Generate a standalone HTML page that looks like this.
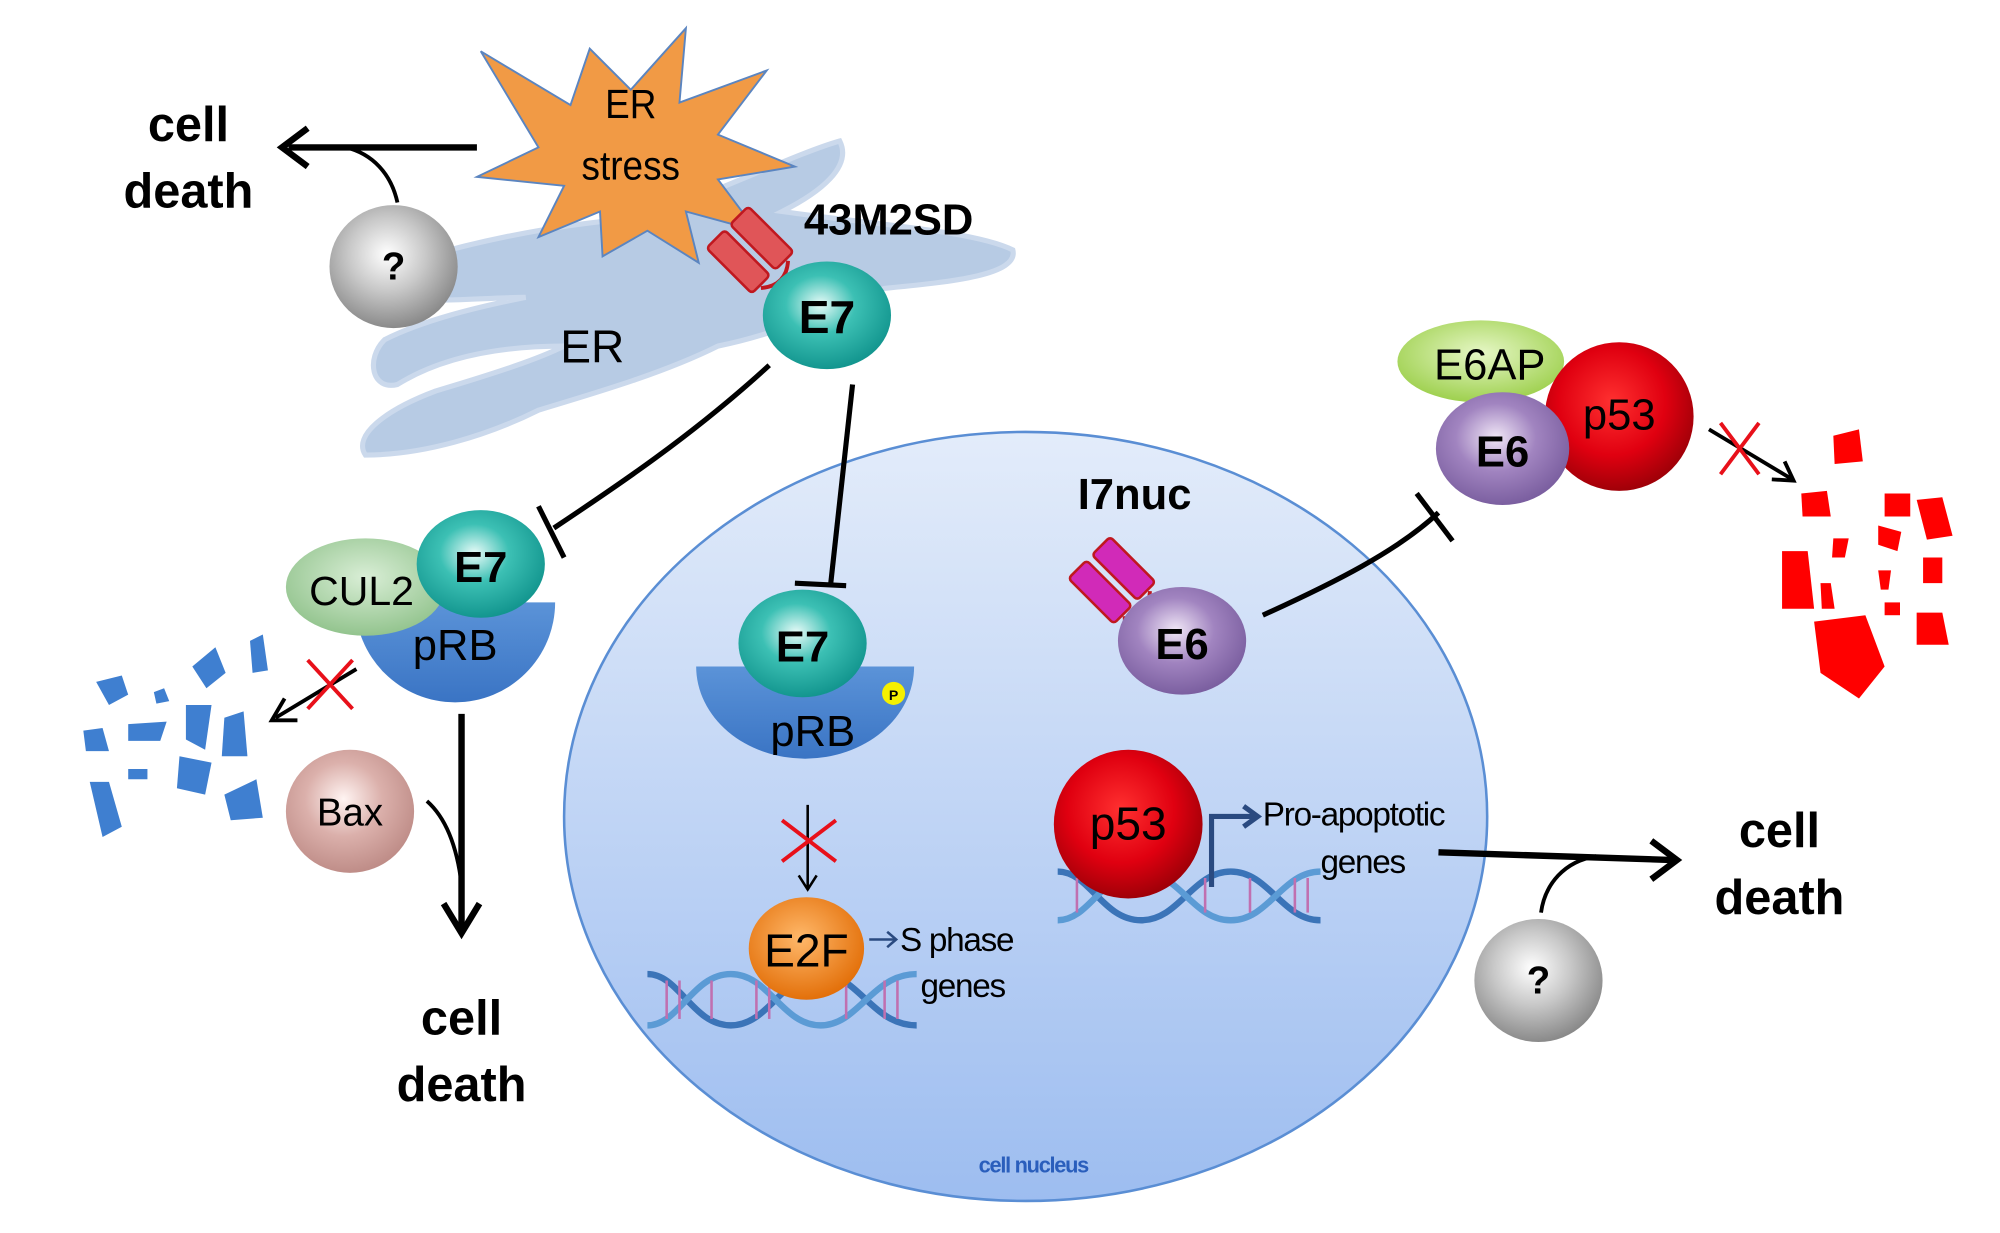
<!DOCTYPE html>
<html><head><meta charset="utf-8"><style>html,body{margin:0;padding:0;background:#fff}svg{display:block}</style></head><body>
<svg width="2000" height="1233" viewBox="0 0 1560 962" preserveAspectRatio="none" xmlns="http://www.w3.org/2000/svg" font-family="Liberation Sans, sans-serif">
<defs>
<radialGradient id="teal" cx="45%" cy="40%" r="60%"><stop offset="0" stop-color="#e8fbf8"/><stop offset="0.45" stop-color="#3cc0b4"/><stop offset="1" stop-color="#13968f"/></radialGradient>
<radialGradient id="purp" cx="45%" cy="40%" r="60%"><stop offset="0" stop-color="#f0e6f6"/><stop offset="0.5" stop-color="#a184c0"/><stop offset="1" stop-color="#7b5fa0"/></radialGradient>
<radialGradient id="red" cx="45%" cy="40%" r="60%"><stop offset="0" stop-color="#ff3030"/><stop offset="0.6" stop-color="#e00010"/><stop offset="1" stop-color="#a00008"/></radialGradient>
<radialGradient id="gray" cx="45%" cy="40%" r="60%"><stop offset="0" stop-color="#ffffff"/><stop offset="0.5" stop-color="#c8c8c8"/><stop offset="1" stop-color="#8a8a8a"/></radialGradient>
<radialGradient id="pink" cx="45%" cy="40%" r="60%"><stop offset="0" stop-color="#fff4f2"/><stop offset="0.5" stop-color="#dbb0ab"/><stop offset="1" stop-color="#bf8d88"/></radialGradient>
<radialGradient id="green" cx="50%" cy="40%" r="60%"><stop offset="0" stop-color="#e6f7c6"/><stop offset="1" stop-color="#9ed04e"/></radialGradient>
<radialGradient id="cul" cx="50%" cy="40%" r="60%"><stop offset="0" stop-color="#d9eed6"/><stop offset="1" stop-color="#93c48e"/></radialGradient>
<radialGradient id="orange" cx="45%" cy="40%" r="60%"><stop offset="0" stop-color="#ffb86a"/><stop offset="1" stop-color="#e3700a"/></radialGradient>
<linearGradient id="nuc" x1="0" y1="0" x2="0" y2="1"><stop offset="0" stop-color="#e3ecfa"/><stop offset="1" stop-color="#9dbdf0"/></linearGradient>
<linearGradient id="prb" x1="0" y1="0" x2="0" y2="1"><stop offset="0" stop-color="#5b93d8"/><stop offset="1" stop-color="#3a74c4"/></linearGradient>
</defs>
<!-- ER -->
<g fill="#b7cbe4" stroke="#cbd9ec" stroke-width="4">
<path d="M300 210 C360 190 430 175 500 170 C560 150 620 120 655 110 C665 130 640 150 610 165 C680 175 760 180 790 195 C795 215 740 220 690 225 C650 240 610 260 560 270 C520 290 470 305 420 320 C380 340 330 355 285 355 C275 340 300 320 340 305 C390 290 420 280 440 270 C400 270 350 275 310 300 C290 305 285 280 300 265 C330 250 370 240 410 232 C370 232 320 240 300 225Z"/>
</g>
<!-- Starburst -->
<polygon fill="#f19a45" stroke="#5b85c0" stroke-width="1.5" points="492,70 535,22 530,80 598,55 560,105 620,130 560,140 590,180 535,165 545,205 505,180 470,200 468,165 420,185 440,145 372,138 420,115 375,40 445,82 460,38"/>
<text x="492" y="92" font-size="32" text-anchor="middle" transform="translate(492 0) scale(0.9 1) translate(-492 0)">ER</text>
<text x="492" y="140" font-size="32" text-anchor="middle" transform="translate(492 0) scale(0.9 1) translate(-492 0)">stress</text>
<!-- receptor red -->
<g transform="rotate(45 585 195)" fill="#e05558" stroke="#c0181f" stroke-width="2">
<rect x="560" y="172" width="50" height="20" rx="3"/><rect x="560" y="198" width="50" height="20" rx="3"/>
<path d="M612 180 Q625 195 612 210" fill="none" stroke-width="3"/>
</g>
<text x="627" y="183" font-size="34" font-weight="bold">43M2SD</text>
<ellipse cx="645" cy="246" rx="50" ry="42" fill="url(#teal)"/>
<text x="645" y="260" font-size="36" font-weight="bold" text-anchor="middle">E7</text>
<text x="462" y="283" font-size="36" text-anchor="middle">ER</text>
<!-- top-left cell death -->
<text x="147" y="110" font-size="38" font-weight="bold" text-anchor="middle">cell</text>
<text x="147" y="162" font-size="38" font-weight="bold" text-anchor="middle">death</text>
<g stroke="#000" stroke-width="5" fill="none">
<line x1="372" y1="115" x2="225" y2="115"/><polyline points="240,100 220,115 240,130"/>
<path d="M310 158 C305 135 290 120 270 115" stroke-width="3"/>
</g>
<ellipse cx="307" cy="208" rx="50" ry="48" fill="url(#gray)"/>
<text x="307" y="218" font-size="30" font-weight="bold" text-anchor="middle">?</text>
<!-- Nucleus -->
<ellipse cx="800" cy="637" rx="360" ry="300" fill="url(#nuc)" stroke="#5a8ed4" stroke-width="2"/>
<text x="806" y="915" font-size="17" font-weight="bold" fill="#2a5ebc" text-anchor="middle" letter-spacing="-1">cell nucleus</text>
<!-- inhibition lines -->
<g stroke="#000" stroke-width="4" fill="none">
<path d="M600 285 C540 340 480 380 432 412"/><line x1="420" y1="395" x2="440" y2="435"/>
<path d="M665 300 L648 455"/><line x1="620" y1="455" x2="660" y2="457"/>
<path d="M985 480 C1040 455 1090 430 1122 400"/><line x1="1105" y1="385" x2="1133" y2="422"/>
</g>
<!-- left complex -->
<path d="M277 470 A78 78 0 0 0 433 470 Z" fill="url(#prb)"/>
<ellipse cx="285" cy="458" rx="62" ry="38" fill="url(#cul)"/>
<text x="282" y="472" font-size="32" text-anchor="middle">CUL2</text>
<ellipse cx="375" cy="440" rx="50" ry="42" fill="url(#teal)"/>
<text x="375" y="454" font-size="34" font-weight="bold" text-anchor="middle">E7</text>
<text x="355" y="515" font-size="34" text-anchor="middle">pRB</text>
<!-- blue fragments -->
<g fill="#3f7fd0">
<path d="M75 532 l20 -5 5 15 -15 8z"/><path d="M120 540 l8 -3 4 10 -10 2z"/><path d="M150 520 l18 -15 8 20 -15 12z"/><path d="M195 500 l10 -5 4 28 -12 2z"/>
<path d="M65 570 l15 -2 5 18 -18 0z"/><path d="M100 565 l30 -2 -5 15 -25 0z"/><path d="M145 550 l20 0 -5 35 -15 -8z"/><path d="M175 560 l15 -5 3 35 -20 0z"/>
<path d="M100 600 l15 0 0 8 -15 0z"/><path d="M140 590 l25 5 -5 25 -22 -5z"/><path d="M70 610 l15 0 10 35 -15 8z"/><path d="M175 620 l25 -12 5 30 -25 2z"/>
</g>
<g stroke="#000" stroke-width="3" fill="none"><line x1="278" y1="522" x2="215" y2="560"/><polyline points="222,545 212,562 232,562"/></g>
<g stroke="#e8101a" stroke-width="3"><line x1="240" y1="515" x2="275" y2="553"/><line x1="275" y1="515" x2="240" y2="553"/></g>
<ellipse cx="273" cy="633" rx="50" ry="48" fill="url(#pink)"/>
<text x="273" y="644" font-size="30" text-anchor="middle">Bax</text>
<g stroke="#000" stroke-width="5" fill="none"><line x1="360" y1="557" x2="360" y2="725"/><polyline points="346,705 360,728 374,705"/>
<path d="M333 625 C350 640 357 665 360 690" stroke-width="3"/></g>
<text x="360" y="807" font-size="38" font-weight="bold" text-anchor="middle">cell</text>
<text x="360" y="859" font-size="38" font-weight="bold" text-anchor="middle">death</text>
<!-- middle E7 pRB -->
<path d="M543 520 A85 72 0 0 0 713 520 Z" fill="url(#prb)"/>
<ellipse cx="626" cy="502" rx="50" ry="42" fill="url(#teal)"/>
<text x="626" y="516" font-size="34" font-weight="bold" text-anchor="middle">E7</text>
<text x="634" y="582" font-size="34" text-anchor="middle">pRB</text>
<circle cx="697" cy="541" r="9" fill="#f5f000"/><text x="697" y="546" font-size="11" font-weight="bold" text-anchor="middle">P</text>
<g stroke="#000" stroke-width="2" fill="none"><line x1="630" y1="628" x2="630" y2="693"/><polyline points="623,683 630,694 637,683"/></g>
<g stroke="#e8101a" stroke-width="3"><line x1="610" y1="640" x2="652" y2="672"/><line x1="652" y1="640" x2="610" y2="672"/></g>
<!-- DNA 1 -->
<g fill="none" stroke-width="5">
<path d="M505 760 C530 760 540 800 570 800 C600 800 610 760 640 760 C670 760 680 800 715 800" stroke="#3b74b8"/>
<path d="M505 800 C530 800 540 760 570 760 C600 760 610 800 640 800 C670 800 680 760 715 760" stroke="#5b9bd5"/>
</g>
<g stroke="#c070b0" stroke-width="2"><line x1="520" y1="765" x2="520" y2="795"/><line x1="530" y1="765" x2="530" y2="795"/><line x1="555" y1="765" x2="555" y2="795"/><line x1="590" y1="765" x2="590" y2="795"/><line x1="600" y1="765" x2="600" y2="795"/><line x1="660" y1="765" x2="660" y2="795"/><line x1="690" y1="765" x2="690" y2="795"/><line x1="700" y1="765" x2="700" y2="795"/></g>
<ellipse cx="629" cy="740" rx="45" ry="40" fill="url(#orange)"/>
<text x="629" y="754" font-size="36" text-anchor="middle">E2F</text>
<g stroke="#2a4a80" stroke-width="2" fill="none"><line x1="678" y1="733" x2="698" y2="733"/><polyline points="692,727 699,733 692,739"/></g>
<text x="702" y="742" font-size="26" letter-spacing="-1">S phase</text>
<text x="718" y="778" font-size="26" letter-spacing="-1">genes</text>
<!-- I7nuc -->
<text x="885" y="397" font-size="34" font-weight="bold" text-anchor="middle">I7nuc</text>
<g transform="rotate(45 868 452)" fill="#d12ab8" stroke="#c0181f" stroke-width="2">
<rect x="843" y="430" width="50" height="20" rx="3"/><rect x="843" y="456" width="50" height="20" rx="3"/>
<path d="M895 438 Q908 453 895 468" fill="none" stroke-width="3"/>
</g>
<ellipse cx="922" cy="500" rx="50" ry="42" fill="url(#purp)"/>
<text x="922" y="514" font-size="34" font-weight="bold" text-anchor="middle">E6</text>
<!-- right complex -->
<ellipse cx="1155" cy="282" rx="65" ry="32" fill="url(#green)"/>
<text x="1162" y="296" font-size="34" text-anchor="middle">E6AP</text>
<ellipse cx="1263" cy="325" rx="58" ry="58" fill="url(#red)"/>
<text x="1263" y="335" font-size="34" text-anchor="middle">p53</text>
<ellipse cx="1172" cy="350" rx="52" ry="44" fill="url(#purp)"/>
<text x="1172" y="364" font-size="34" font-weight="bold" text-anchor="middle">E6</text>
<g stroke="#000" stroke-width="3" fill="none"><line x1="1333" y1="335" x2="1398" y2="374"/><polyline points="1382,374 1399,375 1392,360"/></g>
<g stroke="#e8101a" stroke-width="3"><line x1="1342" y1="330" x2="1372" y2="370"/><line x1="1372" y1="330" x2="1342" y2="370"/></g>
<g fill="#ff0000">
<path d="M1430 340 l20 -5 3 25 -22 2z"/><path d="M1405 385 l20 -2 3 20 -22 0z"/><path d="M1470 385 l20 0 0 18 -20 0z"/><path d="M1495 390 l20 -2 8 30 -20 3z"/>
<path d="M1430 420 l12 0 -3 15 -10 0z"/><path d="M1465 410 l18 5 -3 15 -15 -5z"/><path d="M1500 435 l15 0 0 20 -15 0z"/><path d="M1390 430 l20 0 5 45 -25 0z"/>
<path d="M1465 445 l10 0 -2 15 -6 0z"/><path d="M1420 455 l8 0 3 20 -10 0z"/><path d="M1470 470 l12 0 0 10 -12 0z"/><path d="M1495 478 l20 0 5 25 -25 0z"/>
<path d="M1415 485 l40 -5 15 40 -20 25 -30 -20z"/>
</g>
<!-- p53 nucleus -->
<g fill="none" stroke-width="5">
<path d="M825 680 C850 680 860 718 890 718 C920 718 930 680 960 680 C990 680 1000 718 1030 718" stroke="#3b74b8"/>
<path d="M825 718 C850 718 860 680 890 680 C920 680 930 718 960 718 C990 718 1000 680 1030 680" stroke="#5b9bd5"/>
</g>
<g stroke="#c070b0" stroke-width="2"><line x1="840" y1="685" x2="840" y2="712"/><line x1="940" y1="685" x2="940" y2="712"/><line x1="975" y1="685" x2="975" y2="712"/><line x1="1010" y1="685" x2="1010" y2="712"/><line x1="1020" y1="685" x2="1020" y2="712"/></g>
<ellipse cx="880" cy="643" rx="58" ry="58" fill="url(#red)"/>
<text x="880" y="655" font-size="36" text-anchor="middle">p53</text>
<g stroke="#2a4a80" stroke-width="4" fill="none"><polyline points="945,692 945,637 978,637"/><polyline points="970,629 981,637 970,645"/></g>
<text x="985" y="644" font-size="26" letter-spacing="-1">Pro-apoptotic</text>
<text x="1030" y="681" font-size="26" letter-spacing="-1">genes</text>
<g stroke="#000" stroke-width="5" fill="none"><line x1="1122" y1="665" x2="1305" y2="671"/><polyline points="1288,656 1308,671 1288,686"/>
<path d="M1202 712 C1205 690 1220 672 1245 668" stroke-width="3"/></g>
<ellipse cx="1200" cy="765" rx="50" ry="48" fill="url(#gray)"/>
<text x="1200" y="775" font-size="30" font-weight="bold" text-anchor="middle">?</text>
<text x="1388" y="661" font-size="38" font-weight="bold" text-anchor="middle">cell</text>
<text x="1388" y="713" font-size="38" font-weight="bold" text-anchor="middle">death</text>
</svg>
</body></html>
